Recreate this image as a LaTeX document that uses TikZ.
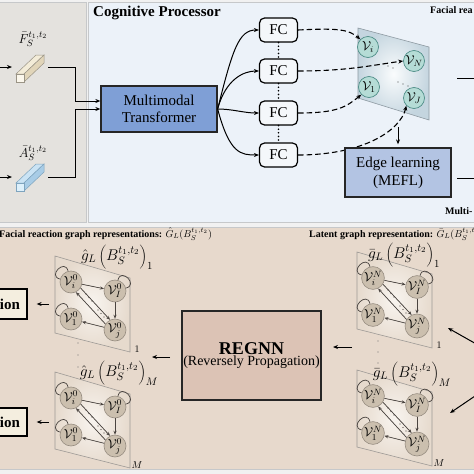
\RequirePackage{fix-cm}
\documentclass[tikz,border=0pt]{standalone}
\usepackage{fontspec}
\setmainfont{Liberation Serif}
\usetikzlibrary{arrows.meta,calc}
\definecolor{pagebg}{HTML}{F1F1F1}
\definecolor{graypanel}{HTML}{E4E2DE}
\definecolor{bluepanel}{HTML}{ECF2F9}
\definecolor{panelline}{HTML}{C6C8CA}
\definecolor{tanpanel}{HTML}{E7D9CC}
\definecolor{mtblue}{HTML}{7F9FD6}
\definecolor{eblue}{HTML}{B3C4E3}
\definecolor{fcfill}{HTML}{F4F7FA}
\definecolor{regnnfill}{HTML}{DCC3B5}
\definecolor{ionfill}{HTML}{F4EEDF}
\definecolor{tealnode}{HTML}{B5DCD6}
\definecolor{tealline}{HTML}{4F8E88}
\definecolor{tannode}{HTML}{CBBFAE}
\definecolor{tanline}{HTML}{978D81}
\definecolor{gline}{HTML}{4A4440}
\definecolor{planein}{HTML}{F8F4EF}
\definecolor{planeout}{HTML}{E6DACD}
\definecolor{planeedge}{HTML}{9E9A96}
\definecolor{tplanein}{HTML}{FAFCFD}
\definecolor{tplaneout}{HTML}{C4D5DF}
\definecolor{tplaneedge}{HTML}{8E9AA2}
\definecolor{fbarfront}{HTML}{FBF7EC}
\definecolor{fbartop}{HTML}{F3ECD8}
\definecolor{fbarside}{HTML}{E1D5B9}
\definecolor{fbaredge}{HTML}{9A9486}
\definecolor{abarfront}{HTML}{DDF0FB}
\definecolor{abartop}{HTML}{CAE3F4}
\definecolor{abarside}{HTML}{A8CCE6}
\definecolor{abaredge}{HTML}{7EA4BE}
\tikzset{
  arr/.style={-{Stealth[length=5pt,width=4pt]}, line width=1pt},
  dasharr/.style={-{Stealth[length=5pt,width=4pt]}, line width=1.1pt, dash pattern=on 5.5pt off 3pt},
  mtbox/.style={draw=black!85, line width=1.3pt, fill=mtblue, minimum width=116pt, minimum height=46pt, align=center, font=\fontsize{15}{17}\selectfont, inner sep=0pt},
  fcbox/.style={draw=black, line width=1.2pt, rounded corners=5pt, fill=fcfill, minimum width=38pt, minimum height=24pt, inner sep=0pt, font=\fontsize{15}{15}\selectfont},
  elbox/.style={draw=black!85, line width=1.3pt, fill=eblue, minimum width=106pt, minimum height=49pt, align=center, font=\fontsize{15}{18}\selectfont, inner sep=0pt},
  regbox/.style={draw=black!85, line width=1.5pt, fill=regnnfill, minimum width=139pt, minimum height=89pt, align=center, inner sep=0pt},
  ionbox/.style={draw=black, line width=1.3pt, fill=ionfill, minimum width=56pt, text width=42pt, align=right, inner sep=0pt, font=\bfseries\fontsize{15}{15}\selectfont},
  tnode/.style={circle, draw=tealline, line width=0.7pt, fill=tealnode, minimum size=21pt, inner sep=0pt, font=\fontsize{13}{13}\selectfont},
  gnode/.style={circle, draw=tanline, line width=0.6pt, fill=tannode, minimum size=22pt, inner sep=0pt, font=\fontsize{13}{13}\selectfont},
  garr/.style={-{Stealth[length=4pt,width=3.2pt]}, line width=0.7pt, draw=gline, fill=gline},
  gloop/.style={line width=0.7pt, draw=gline},
  hdr/.style={font=\bfseries\fontsize{10}{10}\selectfont, inner sep=0pt, anchor=west},
  gtitle/.style={font=\fontsize{15.5}{15.5}\selectfont, inner sep=0pt},
  clabel/.style={font=\fontsize{10}{10}\selectfont, inner sep=0pt},
  bigdots/.style={line width=1.8pt, dash pattern=on 0pt off 3.6pt, line cap=round},
}
% graph plane: #1 x, #2 y, #3 prefix, #4 superscript, #5 corner label
\newcommand\gplane[5]{%
  \begin{scope}[shift={(#1,#2)}]
    \shadedraw[inner color=planein, outer color=planeout, draw=planeedge, line width=0.6pt]
      (0,0) -- (75,22) -- (75,96) -- (0,77) -- cycle;
    \node[gnode] (#3a) at (16,26) {$\mathcal{V}^{#4}_{i}$};
    \node[gnode] (#3b) at (60,35) {$\mathcal{V}^{#4}_{I}$};
    \node[gnode] (#3c) at (16,63) {$\mathcal{V}^{#4}_{1}$};
    \node[gnode] (#3d) at (60,74) {$\mathcal{V}^{#4}_{j}$};
    \node[clabel] (#3lab) at (82,93) {#5};
    \draw[garr] (#3a) -- (#3b);
    \draw[garr] (#3b) -- (#3d);
    \draw[garr] (#3d) -- (#3c);
    \draw[garr] (#3a.-32) -- (#3d.116);
    \draw[garr] (#3d.148) -- (#3a.-64);
    \draw[gloop] (#3a.105) .. controls +(-3,-13) and +(-13,-3) .. (#3a.165);
    \draw[gloop] (#3b.75) .. controls +(3,-13) and +(13,-3) .. (#3b.15);
    \draw[gloop] (#3c.105) .. controls +(-3,-13) and +(-13,-3) .. (#3c.165);
    \fill[gline] (31,38) circle (0.55) (34,41.5) circle (0.55) (37,45) circle (0.55);
    \fill[gline] (43,54) circle (0.55) (46,57.5) circle (0.55) (49,61) circle (0.55);
  \end{scope}}
\begin{document}
\begin{tikzpicture}[x=1pt,y=-1pt]
\useasboundingbox (0,0) rectangle (474,474);
\clip (0,0) rectangle (474,474);
\fill[pagebg] (0,0) rectangle (474,474);
% panels
\filldraw[fill=graypanel, draw=panelline, line width=0.8pt] (-5,2) rectangle (86,222);
\filldraw[fill=bluepanel, draw=panelline, line width=0.8pt] (88,2) rectangle (490,222);
\filldraw[fill=tanpanel, draw=panelline, line width=0.6pt] (-5,227) rectangle (490,469);
% titles
\node[font=\bfseries\fontsize{15}{15}\selectfont, anchor=west, inner sep=0pt] (cp) at (93,13) {Cognitive Processor};
\node[hdr] (fr) at (430,10) {Facial rea};
\node[hdr] (mu) at (445,211) {Multi-};
% feature bars
\filldraw[fill=fbartop, draw=fbaredge, line width=0.5pt] (16,74) -- (36,55) -- (44,55) -- (24,74) -- cycle;
\filldraw[fill=fbarside, draw=fbaredge, line width=0.5pt] (24,74) -- (44,55) -- (44,63) -- (24,82) -- cycle;
\filldraw[fill=fbarfront, draw=fbaredge, line width=0.5pt] (16,74) rectangle (24,82);
\filldraw[fill=abartop, draw=abaredge, line width=0.5pt] (16,183) -- (36,164) -- (44,164) -- (24,183) -- cycle;
\filldraw[fill=abarside, draw=abaredge, line width=0.5pt] (24,183) -- (44,164) -- (44,172) -- (24,191) -- cycle;
\filldraw[fill=abarfront, draw=abaredge, line width=0.5pt] (16,183) rectangle (24,191);
\node[font=\fontsize{13}{13}\selectfont, inner sep=0pt] (flab) at (33,39) {$\bar{F}_S^{t_1,t_2}$};
\node[font=\fontsize{13}{13}\selectfont, inner sep=0pt] (alab) at (33,153) {$\bar{A}_S^{t_1,t_2}$};
\coordinate (fin) at (-3,67);
\coordinate (fbl) at (12,67);
\coordinate (ain) at (-3,177);
\coordinate (abl) at (12,177);
\coordinate (fbr) at (48,67);
\coordinate (abr) at (48,177);
\draw[arr] (fin) -- (fbl);
\draw[arr] (ain) -- (abl);
% multimodal transformer
\node[mtbox] (mt) at (159,109) {Multimodal\\Transformer};
\draw[arr] (fbr) -- (75,67) |- ($(mt.west)+(0,-8)$);
\draw[arr] (abr) -- (75,177) |- ($(mt.west)+(0,0)$);
% FC nodes
\node[fcbox] (fc1) at (278.5,30) {FC};
\node[fcbox] (fc2) at (278.5,71) {FC};
\node[fcbox] (fc3) at (278.5,113) {FC};
\node[fcbox] (fc4) at (278.5,155) {FC};
\draw[bigdots] (fc1.south) -- (fc2.north);
\draw[bigdots] (fc2.south) -- (fc3.north);
\draw[bigdots] (fc3.south) -- (fc4.north);
\draw[arr] (mt.east) .. controls +(15,-60) and +(-20,0) .. (fc1.west);
\draw[arr] (mt.east) .. controls +(8,-30) and +(-15,0) .. (fc2.west);
\draw[arr] (mt.east) .. controls +(15,0) and +(-15,0) .. (fc3.west);
\draw[arr] (mt.east) .. controls +(12,45) and +(-18,0) .. (fc4.west);
% top plane
\shadedraw[inner color=tplanein, outer color=tplaneout, draw=tplaneedge, line width=0.6pt]
  (358,28) -- (429,47) -- (429,120) -- (358,98) -- cycle;
\node[tnode] (vi) at (368,47) {$\mathcal{V}_{i}$};
\node[tnode] (vN) at (414,61) {$\mathcal{V}_{N}$};
\node[tnode] (v1) at (369,87) {$\mathcal{V}_{1}$};
\node[tnode] (vJ) at (414,98) {$\mathcal{V}_{J}$};
\fill[black!70] (383,64) circle (0.7) (388,66) circle (0.7) (393,68) circle (0.7);
\fill[black!70] (398,82) circle (0.7) (403,84) circle (0.7) (408,86) circle (0.7);
\draw[dasharr] (fc1.east) .. controls +(40,-2) and +(-12,-10) .. (vi.north west);
\draw[dasharr] (fc2.east) .. controls +(50,0) and +(-30,4) .. (vN.west);
\draw[dasharr] (fc3.east) .. controls +(40,0) and +(-15,12) .. (v1.south west);
\draw[dasharr] (fc4.east) .. controls +(65,0) and +(-6,25) .. (vJ.south west);
% edge learning
\node[elbox] (el) at (398,172.5) {Edge learning\\(MEFL)};
\coordinate (pbot) at (398,127);
\draw[arr, shorten >=3pt] (pbot) -- (el.north);
\coordinate (r1a) at (457,78);
\coordinate (r1b) at (478,78);
\coordinate (r2a) at (457,178);
\coordinate (r2b) at (478,178);
\draw[line width=1pt] (r1a) -- (r1b);
\draw[line width=1pt] (r2a) -- (r2b);
% bottom headers
\node[hdr] (h1) at (-1,234) {Facial reaction graph representations: $\hat{G}_L(B_S^{t_1,t_2})$};
\node[hdr] (h2) at (309,234) {Latent graph representation: $\bar{G}_L(B_S^{t_1,t_2}$};
% graph planes
\gplane{55}{256}{L}{0}{$1$}
\gplane{55}{372}{M}{0}{$M$}
\gplane{357}{252}{R}{N}{$1$}
\gplane{357}{370}{S}{N}{$M$}
\node[gtitle] (tl1) at (117,257) {$\hat{g}_L\left(B_S^{t_1,t_2}\right)_1$};
\node[gtitle] (tlm) at (119,373) {$\hat{g}_L\left(B_S^{t_1,t_2}\right)_M$};
\node[gtitle] (tr1) at (404,255) {$\bar{g}_L\left(B_S^{t_1,t_2}\right)_1$};
\node[gtitle] (trm) at (412,374) {$\bar{g}_L\left(B_S^{t_1,t_2}\right)_M$};
\fill[black!55] (78,343) circle (0.7) (78,355) circle (0.7) (78,367) circle (0.7);
\fill[black!55] (378,341) circle (0.7) (378,352) circle (0.7) (378,363) circle (0.7);
% ion boxes
\node[ionbox, minimum height=30pt] (ion1) at (-1,304) {ion};
\node[ionbox, minimum height=28pt] (ion2) at (-1,422) {ion};
\coordinate (ia1) at (49,304);
\coordinate (ia2) at (49,422);
\draw[arr, shorten >=9pt] (ia1) -- (ion1.east);
\draw[arr, shorten >=9pt] (ia2) -- (ion2.east);
% REGNN
\node[regbox] (reg) at (251.5,355.5) {{\bfseries\fontsize{18}{20}\selectfont REGNN}\\[-1pt]{\fontsize{14}{16}\selectfont (Reversely Propagation)}};
\coordinate (rp1) at (352,347);
\coordinate (rp1e) at (333,347);
\coordinate (lp1) at (170,357);
\coordinate (lp1e) at (152,357);
\draw[arr] (rp1) -- (rp1e);
\draw[arr] (lp1) -- (lp1e);
% incoming arrows at right
\coordinate (in1) at (478,345);
\coordinate (in1e) at (448,328);
\coordinate (in2) at (478,394);
\coordinate (in2e) at (450,413);
\draw[arr] (in1) -- (in1e);
\draw[arr] (in2) -- (in2e);
\end{tikzpicture}
\end{document}
